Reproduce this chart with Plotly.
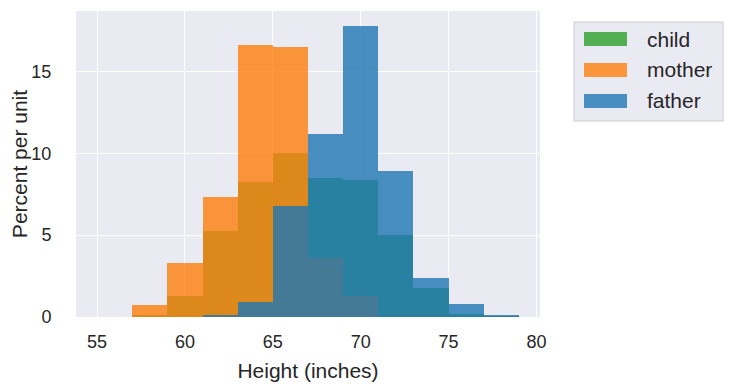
import plotly.graph_objects as go

# Bin edges (inches) and percent-per-unit heights for each bin
bin_edges = [55, 57, 59, 61, 63, 65, 67, 69, 71, 73, 75, 77, 79]
child = [0.0, 0.1, 1.29, 5.27, 8.24, 10.02, 8.49, 8.37, 5.0, 1.78, 0.16, 0.05]
mother = [0.0, 0.71, 3.29, 7.33, 16.63, 16.5, 3.59, 1.27, 0.0, 0.0, 0.0, 0.0]
father = [0.0, 0.0, 0.0, 0.14, 0.92, 6.78, 11.18, 17.8, 8.9, 2.37, 0.78, 0.1]

series = ["child", "mother", "father"]
COLORS = {"child": "#2ca02c", "mother": "#ff7f0e", "father": "#1f77b4"}
values = {"child": child, "mother": mother, "father": father}

centers = [(a + b) / 2 for a, b in zip(bin_edges[:-1], bin_edges[1:])]
widths = [b - a for a, b in zip(bin_edges[:-1], bin_edges[1:])]

fig = go.Figure()
for name in series:
    fig.add_trace(go.Bar(
        x=centers, y=values[name], width=widths,
        name=name, marker_color=COLORS[name],
        marker_line_width=0, opacity=0.8, showlegend=False,
    ))

# page body adds an 8px offset, so positions are shifted back by that
OFF = 8
L, T, W, H = 76 - OFF, 11 - OFF, 464, 306
def px(x):
    return (x - OFF - L) / W
def py(y):
    return (T + H - (y - OFF)) / H

# legend drawn by hand so the patches are wide like matplotlib's
fig.add_shape(type="rect", xref="paper", yref="paper",
              x0=px(574), x1=px(723), y0=py(22), y1=py(121),
              fillcolor="#eaeaf2", line=dict(color="#cccccc", width=1),
              layer="above")
for i, name in enumerate(series):
    yc = 39 + i * 31
    fig.add_shape(type="rect", xref="paper", yref="paper",
                  x0=px(584), x1=px(627), y0=py(yc - 7), y1=py(yc + 7),
                  fillcolor=COLORS[name], opacity=0.8, line_width=0,
                  layer="above")
    fig.add_annotation(text=name, xref="paper", yref="paper",
                       x=px(645), y=py(yc), xanchor="left", yanchor="middle",
                       showarrow=False, font=dict(size=21, color="#262626"))

fig.update_layout(
    width=733, height=389,
    barmode="overlay", bargap=0,
    plot_bgcolor="#eaeaf2", paper_bgcolor="white",
    margin=dict(l=L, r=733 - L - W, t=T, b=389 - T - H),
    font=dict(family="Liberation Sans, Arial", color="#262626", size=18),
    xaxis=dict(
        range=[53.8, 80.2], tickvals=[55, 60, 65, 70, 75, 80],
        showgrid=True, gridcolor="white", gridwidth=1.3, zeroline=False,
        ticks="", tickfont=dict(size=18), ticklabelstandoff=12,
        automargin=False,
        title=dict(text="Height (inches)", font=dict(size=21), standoff=12),
    ),
    yaxis=dict(
        range=[0, 18.7], tickvals=[0, 5, 10, 15],
        showgrid=True, gridcolor="white", gridwidth=1.3, zeroline=False,
        ticks="outside", ticklen=20, tickcolor="rgba(0,0,0,0)",
        tickfont=dict(size=18), automargin=False,
        title=dict(text="Percent per unit", font=dict(size=21), standoff=4),
    ),
)

fig.write_html("out.html")
